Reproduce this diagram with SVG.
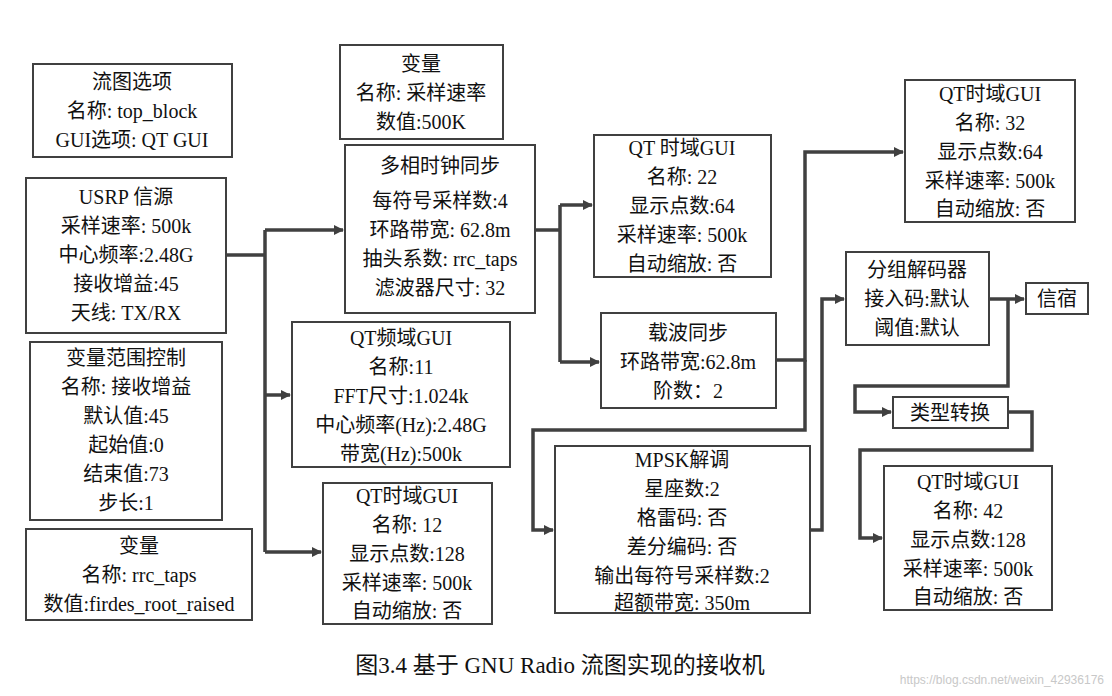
<svg xmlns="http://www.w3.org/2000/svg" width="1112" height="696" viewBox="0 0 1112 696">
<defs>
<marker id="ah" markerWidth="10" markerHeight="10" refX="9" refY="5" orient="auto" markerUnits="userSpaceOnUse"><path d="M0,0 L10,5 L0,10 z" fill="#404040"/></marker>
<style>
rect{fill:#fff;stroke:#404040;stroke-width:2}
text{font-family:"Liberation Serif","Noto Sans CJK SC",serif;font-size:20px;fill:#111;text-anchor:middle}
.c path{fill:none;stroke:#404040;stroke-width:3.5}
.c path.a{marker-end:url(#ah)}
</style>
</defs>
<rect x="0" y="0" width="1112" height="696" style="stroke:none"/>
<g class="c">
<path d="M226,255 H265 M265,230 V552"/>
<path class="a" d="M265,230 H343"/>
<path class="a" d="M265,395 H290"/>
<path class="a" d="M265,552 H321"/>
<path d="M535,230 H560 M560,205 V362"/>
<path class="a" d="M560,205 H592"/>
<path class="a" d="M560,362 H599"/>
<path class="a" d="M776,360 H805 V152 H903"/>
<path class="a" d="M805,360 V430 H533 V530 H553"/>
<path class="a" d="M810,530 H822 V299 H844"/>
<path class="a" d="M989,299 H1024"/>
<path class="a" d="M1008,299 V386 H855 V412 H891"/>
<path class="a" d="M1008,412 H1032 V450 H860 V538 H882"/>
</g>
<g id="n-flow"><rect x="33" y="64" width="199" height="93"/><text x="132" y="89">流图选项</text><text x="132" y="118">名称: top_block</text><text x="132" y="147">GUI选项: QT GUI</text></g>
<g id="n-var1"><rect x="340" y="45" width="163" height="94"/><text x="421" y="71">变量</text><text x="421" y="100">名称: 采样速率</text><text x="421" y="129">数值:500K</text></g>
<g id="n-usrp"><rect x="26" y="178" width="200" height="155"/><text x="126" y="204">USRP 信源</text><text x="126" y="233">采样速率: 500k</text><text x="126" y="262">中心频率:2.48G</text><text x="126" y="291">接收增益:45</text><text x="126" y="320">天线: TX/RX</text></g>
<g id="n-range"><rect x="30" y="342" width="192" height="178"/><text x="126" y="365">变量范围控制</text><text x="126" y="394">名称: 接收增益</text><text x="126" y="423">默认值:45</text><text x="126" y="452">起始值:0</text><text x="126" y="481">结束值:73</text><text x="126" y="510">步长:1</text></g>
<g id="n-var2"><rect x="26" y="529" width="226" height="91"/><text x="139" y="553">变量</text><text x="139" y="582">名称: rrc_taps</text><text x="139" y="611">数值:firdes_root_raised</text></g>
<g id="n-clock"><rect x="345" y="145" width="190" height="168"/><text x="440" y="173">多相时钟同步</text><text x="440" y="208">每符号采样数:4</text><text x="440" y="237">环路带宽: 62.8m</text><text x="440" y="266">抽头系数: rrc_taps</text><text x="440" y="295">滤波器尺寸: 32</text></g>
<g id="n-freq"><rect x="292" y="322" width="218" height="145"/><text x="401" y="345">QT频域GUI</text><text x="401" y="374">名称:11</text><text x="401" y="403">FFT尺寸:1.024k</text><text x="401" y="432">中心频率(Hz):2.48G</text><text x="401" y="461">带宽(Hz):500k</text></g>
<g id="n-t12"><rect x="323" y="483" width="169" height="141"/><text x="407" y="503">QT时域GUI</text><text x="407" y="532">名称: 12</text><text x="407" y="561">显示点数:128</text><text x="407" y="590">采样速率: 500k</text><text x="407" y="618">自动缩放: 否</text></g>
<g id="n-t22"><rect x="594" y="135" width="177" height="142"/><text x="682" y="155">QT 时域GUI</text><text x="682" y="184">名称: 22</text><text x="682" y="213">显示点数:64</text><text x="682" y="242">采样速率: 500k</text><text x="682" y="271">自动缩放: 否</text></g>
<g id="n-carrier"><rect x="601" y="313" width="175" height="95"/><text x="688" y="340">载波同步</text><text x="688" y="369">环路带宽:62.8m</text><text x="688" y="398">阶数：2</text></g>
<g id="n-mpsk"><rect x="555" y="446" width="255" height="167"/><text x="682" y="467">MPSK解调</text><text x="682" y="496">星座数:2</text><text x="682" y="525">格雷码: 否</text><text x="682" y="554">差分编码: 否</text><text x="682" y="583">输出每符号采样数:2</text><text x="682" y="610">超额带宽: 350m</text></g>
<g id="n-t32"><rect x="905" y="80" width="170" height="142"/><text x="990" y="101">QT时域GUI</text><text x="990" y="130">名称: 32</text><text x="990" y="159">显示点数:64</text><text x="990" y="188">采样速率: 500k</text><text x="990" y="216">自动缩放: 否</text></g>
<g id="n-decoder"><rect x="846" y="252" width="143" height="93"/><text x="917" y="277">分组解码器</text><text x="917" y="306">接入码:默认</text><text x="917" y="335">阈值:默认</text></g>
<g id="n-sink"><rect x="1026" y="283" width="62" height="31"/><text x="1057" y="306">信宿</text></g>
<g id="n-conv"><rect x="893" y="397" width="115" height="31"/><text x="950" y="420">类型转换</text></g>
<g id="n-t42"><rect x="884" y="466" width="168" height="144"/><text x="968" y="489">QT时域GUI</text><text x="968" y="518">名称: 42</text><text x="968" y="547">显示点数:128</text><text x="968" y="576">采样速率: 500k</text><text x="968" y="604">自动缩放: 否</text></g>
<text x="560" y="673" style="font-size:23px">图3.4  基于 GNU Radio 流图实现的接收机</text>
<text x="1104" y="684" style="font-size:12px;fill:#c8c8c8;text-anchor:end;font-family:'Liberation Sans',sans-serif">https://blog.csdn.net/weixin_42936176</text>
</svg>
